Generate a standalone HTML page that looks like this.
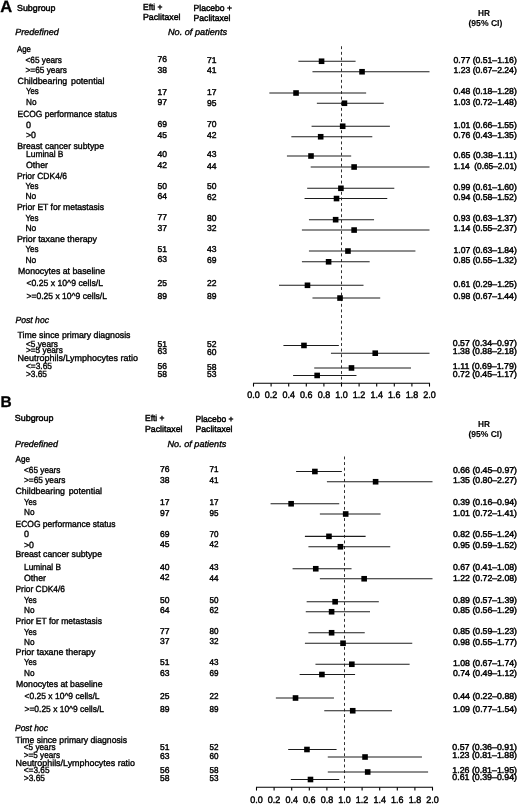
<!DOCTYPE html>
<html lang="en">
<head>
<meta charset="utf-8">
<title>Forest plot – subgroup hazard ratios</title>
<style>
html,body{margin:0;padding:0;background:#fff;}
body{width:520px;height:805px;overflow:hidden;}
svg{display:block;}
.t{white-space:pre;font-family:"Liberation Sans", sans-serif;fill:#000;stroke:#000;stroke-width:0.36px;}
.i{font-style:italic;}
.b{stroke-width:0.45px;}
.n{stroke-width:0.42px;}
.B{font-weight:bold;stroke-width:0.1px;}
.L{font-family:"Liberation Sans", sans-serif;font-weight:bold;fill:#000;stroke:#000;stroke-width:0.3px;}
</style>
</head>
<body>
<svg width="520" height="805" viewBox="0 0 520 805" text-rendering="geometricPrecision">
<rect x="0" y="0" width="520" height="805" fill="#ffffff"/>
<g>
<text class="L" x="0.2" y="12.1" font-size="16.5">A</text>
<text class="t b" x="17.00" y="10.75" font-size="8.8" textLength="38.50" lengthAdjust="spacingAndGlyphs">Subgroup</text>
<text class="t i" x="15.25" y="35.40" font-size="8.9" textLength="43.50" lengthAdjust="spacingAndGlyphs">Predefined</text>
<text class="t" x="17.00" y="51.75" font-size="8.9" textLength="14.00" lengthAdjust="spacingAndGlyphs">Age</text>
<text class="t" x="25.50" y="62.50" font-size="8.9" textLength="36.50" lengthAdjust="spacingAndGlyphs">&lt;65 years</text>
<text class="t" x="25.50" y="72.75" font-size="8.9" textLength="41.50" lengthAdjust="spacingAndGlyphs">&gt;=65 years</text>
<text class="t" x="17.50" y="83.75" font-size="8.9" textLength="87.00" lengthAdjust="spacingAndGlyphs" style="word-spacing:1.3px">Childbearing potential</text>
<text class="t" x="26.00" y="93.90" font-size="8.9" textLength="12.75" lengthAdjust="spacingAndGlyphs">Yes</text>
<text class="t" x="26.00" y="104.50" font-size="8.9" textLength="10.50" lengthAdjust="spacingAndGlyphs">No</text>
<text class="t" x="17.50" y="117.00" font-size="8.9" textLength="99.50" lengthAdjust="spacingAndGlyphs">ECOG performance status</text>
<text class="t" x="26.00" y="127.50" font-size="8.9" textLength="5.00" lengthAdjust="spacingAndGlyphs">0</text>
<text class="t" x="26.00" y="138.00" font-size="8.9" textLength="10.00" lengthAdjust="spacingAndGlyphs">&gt;0</text>
<text class="t" x="17.30" y="148.70" font-size="8.9" textLength="86.70" lengthAdjust="spacingAndGlyphs">Breast cancer subtype</text>
<text class="t" x="26.00" y="157.35" font-size="8.9" textLength="37.50" lengthAdjust="spacingAndGlyphs">Luminal B</text>
<text class="t" x="26.00" y="167.70" font-size="8.9" textLength="22.00" lengthAdjust="spacingAndGlyphs">Other</text>
<text class="t" x="16.90" y="178.80" font-size="8.9" textLength="50.10" lengthAdjust="spacingAndGlyphs">Prior CDK4/6</text>
<text class="t" x="25.40" y="189.05" font-size="8.9" textLength="13.10" lengthAdjust="spacingAndGlyphs">Yes</text>
<text class="t" x="25.40" y="199.20" font-size="8.9" textLength="10.80" lengthAdjust="spacingAndGlyphs">No</text>
<text class="t" x="16.90" y="209.90" font-size="8.9" textLength="87.10" lengthAdjust="spacingAndGlyphs">Prior ET for metastasis</text>
<text class="t" x="25.40" y="220.50" font-size="8.9" textLength="13.10" lengthAdjust="spacingAndGlyphs">Yes</text>
<text class="t" x="25.40" y="231.15" font-size="8.9" textLength="10.80" lengthAdjust="spacingAndGlyphs">No</text>
<text class="t" x="16.90" y="242.10" font-size="8.9" textLength="80.10" lengthAdjust="spacingAndGlyphs">Prior taxane therapy</text>
<text class="t" x="25.40" y="251.60" font-size="8.9" textLength="13.10" lengthAdjust="spacingAndGlyphs">Yes</text>
<text class="t" x="25.40" y="262.50" font-size="8.9" textLength="10.80" lengthAdjust="spacingAndGlyphs">No</text>
<text class="t" x="18.00" y="274.00" font-size="8.9" textLength="87.00" lengthAdjust="spacingAndGlyphs">Monocytes at baseline</text>
<text class="t" x="26.40" y="285.95" font-size="8.9" textLength="76.60" lengthAdjust="spacingAndGlyphs">&lt;0.25 x 10^9 cells/L</text>
<text class="t" x="26.40" y="298.80" font-size="8.9" textLength="80.60" lengthAdjust="spacingAndGlyphs">&gt;=0.25 x 10^9 cells/L</text>
<text class="t i" x="15.50" y="322.50" font-size="8.9" textLength="33.50" lengthAdjust="spacingAndGlyphs">Post hoc</text>
<text class="t" x="17.50" y="337.95" font-size="8.9" textLength="113.00" lengthAdjust="spacingAndGlyphs">Time since primary diagnosis</text>
<text class="t" x="25.90" y="346.50" font-size="8.9" textLength="32.10" lengthAdjust="spacingAndGlyphs">&lt;5 years</text>
<text class="t" x="25.90" y="353.30" font-size="8.9" textLength="36.90" lengthAdjust="spacingAndGlyphs">&gt;=5 years</text>
<text class="t" x="17.50" y="361.30" font-size="8.9" textLength="120.50" lengthAdjust="spacingAndGlyphs">Neutrophils/Lymphocytes ratio</text>
<text class="t" x="25.90" y="368.65" font-size="8.9" textLength="26.10" lengthAdjust="spacingAndGlyphs">&lt;=3.65</text>
<text class="t" x="25.90" y="376.80" font-size="8.9" textLength="21.10" lengthAdjust="spacingAndGlyphs">&gt;3.65</text>
<text class="t b" x="143.00" y="9.50" font-size="8.8" textLength="19.50" lengthAdjust="spacingAndGlyphs">Efti +</text>
<text class="t b" x="143.00" y="20.00" font-size="8.8" textLength="37.50" lengthAdjust="spacingAndGlyphs">Paclitaxel</text>
<text class="t b" x="193.50" y="11.00" font-size="8.8" textLength="38.50" lengthAdjust="spacingAndGlyphs">Placebo +</text>
<text class="t b" x="193.50" y="21.00" font-size="8.8" textLength="37.00" lengthAdjust="spacingAndGlyphs">Paclitaxel</text>
<text class="t i" x="168.00" y="34.60" font-size="8.9" textLength="59.00" lengthAdjust="spacingAndGlyphs">No. of patients</text>
<text class="t B" x="478.10" y="15.70" font-size="8.6" textLength="12.00" lengthAdjust="spacingAndGlyphs">HR</text>
<text class="t B" x="468.50" y="26.30" font-size="8.6" textLength="33.80" lengthAdjust="spacingAndGlyphs">(95% CI)</text>
<line x1="341.50" y1="46.25" x2="341.50" y2="383.2" stroke="#1a1a1a" stroke-width="0.9" stroke-dasharray="2.9 2.7"/>
<text class="t n" x="157.50" y="62.05" font-size="8.5" textLength="9.50" lengthAdjust="spacingAndGlyphs">76</text>
<text class="t n" x="207.00" y="62.50" font-size="8.5" textLength="9.50" lengthAdjust="spacingAndGlyphs">71</text>
<line x1="298.38" y1="61.25" x2="355.58" y2="61.25" stroke="#1c1c1c" stroke-width="1.05"/>
<rect x="318.76" y="58.45" width="5.6" height="5.6" fill="#000"/>
<text class="t b" x="453.50" y="62.60" font-size="8.5" textLength="63.30" lengthAdjust="spacingAndGlyphs">0.77 (0.51–1.16)</text>
<text class="t n" x="157.50" y="72.70" font-size="8.5" textLength="9.50" lengthAdjust="spacingAndGlyphs">38</text>
<text class="t n" x="207.00" y="73.40" font-size="8.5" textLength="9.50" lengthAdjust="spacingAndGlyphs">41</text>
<line x1="312.46" y1="71.75" x2="429.50" y2="71.75" stroke="#1c1c1c" stroke-width="1.05"/>
<rect x="359.24" y="68.95" width="5.6" height="5.6" fill="#000"/>
<text class="t b" x="453.50" y="73.10" font-size="8.5" textLength="63.30" lengthAdjust="spacingAndGlyphs">1.23 (0.67–2.24)</text>
<text class="t n" x="157.50" y="94.95" font-size="8.5" textLength="9.50" lengthAdjust="spacingAndGlyphs">17</text>
<text class="t n" x="207.00" y="95.05" font-size="8.5" textLength="9.50" lengthAdjust="spacingAndGlyphs">17</text>
<line x1="269.34" y1="93.0" x2="366.14" y2="93.0" stroke="#1c1c1c" stroke-width="1.05"/>
<rect x="293.24" y="90.20" width="5.6" height="5.6" fill="#000"/>
<text class="t b" x="453.50" y="94.30" font-size="8.5" textLength="63.30" lengthAdjust="spacingAndGlyphs">0.48 (0.18–1.28)</text>
<text class="t n" x="157.50" y="104.50" font-size="8.5" textLength="9.50" lengthAdjust="spacingAndGlyphs">97</text>
<text class="t n" x="207.00" y="105.50" font-size="8.5" textLength="9.50" lengthAdjust="spacingAndGlyphs">95</text>
<line x1="316.86" y1="103.25" x2="383.74" y2="103.25" stroke="#1c1c1c" stroke-width="1.05"/>
<rect x="341.64" y="100.45" width="5.6" height="5.6" fill="#000"/>
<text class="t b" x="453.50" y="104.80" font-size="8.5" textLength="63.30" lengthAdjust="spacingAndGlyphs">1.03 (0.72–1.48)</text>
<text class="t n" x="157.50" y="127.00" font-size="8.5" textLength="9.50" lengthAdjust="spacingAndGlyphs">69</text>
<text class="t n" x="207.00" y="127.20" font-size="8.5" textLength="9.50" lengthAdjust="spacingAndGlyphs">70</text>
<line x1="311.58" y1="126.25" x2="389.90" y2="126.25" stroke="#1c1c1c" stroke-width="1.05"/>
<rect x="339.88" y="123.45" width="5.6" height="5.6" fill="#000"/>
<text class="t b" x="453.50" y="127.60" font-size="8.5" textLength="63.30" lengthAdjust="spacingAndGlyphs">1.01 (0.66–1.55)</text>
<text class="t n" x="157.50" y="137.60" font-size="8.5" textLength="9.50" lengthAdjust="spacingAndGlyphs">45</text>
<text class="t n" x="207.00" y="138.30" font-size="8.5" textLength="9.50" lengthAdjust="spacingAndGlyphs">42</text>
<line x1="291.34" y1="136.75" x2="372.30" y2="136.75" stroke="#1c1c1c" stroke-width="1.05"/>
<rect x="317.88" y="133.95" width="5.6" height="5.6" fill="#000"/>
<text class="t b" x="453.50" y="138.40" font-size="8.5" textLength="63.30" lengthAdjust="spacingAndGlyphs">0.76 (0.43–1.35)</text>
<text class="t n" x="157.50" y="157.00" font-size="8.5" textLength="9.50" lengthAdjust="spacingAndGlyphs">40</text>
<text class="t n" x="207.00" y="157.10" font-size="8.5" textLength="9.50" lengthAdjust="spacingAndGlyphs">43</text>
<line x1="286.94" y1="156.0" x2="351.18" y2="156.0" stroke="#1c1c1c" stroke-width="1.05"/>
<rect x="308.20" y="153.20" width="5.6" height="5.6" fill="#000"/>
<text class="t b" x="453.50" y="157.60" font-size="8.5" textLength="63.30" lengthAdjust="spacingAndGlyphs">0.65 (0.38–1.11)</text>
<text class="t n" x="157.50" y="168.40" font-size="8.5" textLength="9.50" lengthAdjust="spacingAndGlyphs">42</text>
<text class="t n" x="207.00" y="168.75" font-size="8.5" textLength="9.50" lengthAdjust="spacingAndGlyphs">44</text>
<line x1="310.70" y1="167.0" x2="429.50" y2="167.0" stroke="#1c1c1c" stroke-width="1.05"/>
<rect x="351.32" y="164.20" width="5.6" height="5.6" fill="#000"/>
<text class="t b" x="453.50" y="169.40" font-size="8.5" textLength="63.30" lengthAdjust="spacingAndGlyphs">1.14  (0.65–2.01)</text>
<text class="t n" x="157.50" y="188.75" font-size="8.5" textLength="9.50" lengthAdjust="spacingAndGlyphs">50</text>
<text class="t n" x="207.00" y="189.20" font-size="8.5" textLength="9.50" lengthAdjust="spacingAndGlyphs">50</text>
<line x1="307.18" y1="188.3" x2="394.30" y2="188.3" stroke="#1c1c1c" stroke-width="1.05"/>
<rect x="338.12" y="185.50" width="5.6" height="5.6" fill="#000"/>
<text class="t b" x="453.50" y="189.70" font-size="8.5" textLength="63.30" lengthAdjust="spacingAndGlyphs">0.99 (0.61–1.60)</text>
<text class="t n" x="157.50" y="199.30" font-size="8.5" textLength="9.50" lengthAdjust="spacingAndGlyphs">64</text>
<text class="t n" x="207.00" y="200.00" font-size="8.5" textLength="9.50" lengthAdjust="spacingAndGlyphs">62</text>
<line x1="304.54" y1="198.55" x2="387.26" y2="198.55" stroke="#1c1c1c" stroke-width="1.05"/>
<rect x="333.72" y="195.75" width="5.6" height="5.6" fill="#000"/>
<text class="t b" x="453.50" y="199.90" font-size="8.5" textLength="63.30" lengthAdjust="spacingAndGlyphs">0.94 (0.58–1.52)</text>
<text class="t n" x="157.50" y="220.30" font-size="8.5" textLength="9.50" lengthAdjust="spacingAndGlyphs">77</text>
<text class="t n" x="207.00" y="220.75" font-size="8.5" textLength="9.50" lengthAdjust="spacingAndGlyphs">80</text>
<line x1="308.94" y1="219.70000000000002" x2="374.06" y2="219.70000000000002" stroke="#1c1c1c" stroke-width="1.05"/>
<rect x="332.84" y="216.90" width="5.6" height="5.6" fill="#000"/>
<text class="t b" x="453.50" y="221.00" font-size="8.5" textLength="63.30" lengthAdjust="spacingAndGlyphs">0.93 (0.63–1.37)</text>
<text class="t n" x="157.50" y="230.75" font-size="8.5" textLength="9.50" lengthAdjust="spacingAndGlyphs">37</text>
<text class="t n" x="207.00" y="231.10" font-size="8.5" textLength="9.50" lengthAdjust="spacingAndGlyphs">32</text>
<line x1="301.90" y1="230.05" x2="429.50" y2="230.05" stroke="#1c1c1c" stroke-width="1.05"/>
<rect x="351.32" y="227.25" width="5.6" height="5.6" fill="#000"/>
<text class="t b" x="453.50" y="231.40" font-size="8.5" textLength="63.30" lengthAdjust="spacingAndGlyphs">1.14 (0.55–2.37)</text>
<text class="t n" x="157.50" y="251.70" font-size="8.5" textLength="9.50" lengthAdjust="spacingAndGlyphs">51</text>
<text class="t n" x="207.00" y="252.20" font-size="8.5" textLength="9.50" lengthAdjust="spacingAndGlyphs">43</text>
<line x1="308.94" y1="251.05" x2="415.42" y2="251.05" stroke="#1c1c1c" stroke-width="1.05"/>
<rect x="345.16" y="248.25" width="5.6" height="5.6" fill="#000"/>
<text class="t b" x="453.50" y="252.70" font-size="8.5" textLength="63.30" lengthAdjust="spacingAndGlyphs">1.07 (0.63–1.84)</text>
<text class="t n" x="157.50" y="261.90" font-size="8.5" textLength="9.50" lengthAdjust="spacingAndGlyphs">63</text>
<text class="t n" x="207.00" y="263.25" font-size="8.5" textLength="9.50" lengthAdjust="spacingAndGlyphs">69</text>
<line x1="301.90" y1="261.8" x2="369.66" y2="261.8" stroke="#1c1c1c" stroke-width="1.05"/>
<rect x="325.80" y="259.00" width="5.6" height="5.6" fill="#000"/>
<text class="t b" x="453.50" y="263.00" font-size="8.5" textLength="63.30" lengthAdjust="spacingAndGlyphs">0.85 (0.55–1.32)</text>
<text class="t n" x="157.50" y="286.00" font-size="8.5" textLength="9.50" lengthAdjust="spacingAndGlyphs">25</text>
<text class="t n" x="207.00" y="286.20" font-size="8.5" textLength="9.50" lengthAdjust="spacingAndGlyphs">22</text>
<line x1="279.02" y1="285.3" x2="363.50" y2="285.3" stroke="#1c1c1c" stroke-width="1.05"/>
<rect x="304.68" y="282.50" width="5.6" height="5.6" fill="#000"/>
<text class="t b" x="453.50" y="286.50" font-size="8.5" textLength="63.30" lengthAdjust="spacingAndGlyphs">0.61 (0.29–1.25)</text>
<text class="t n" x="157.50" y="298.70" font-size="8.5" textLength="9.50" lengthAdjust="spacingAndGlyphs">89</text>
<text class="t n" x="207.00" y="299.10" font-size="8.5" textLength="9.50" lengthAdjust="spacingAndGlyphs">89</text>
<line x1="312.46" y1="298.05" x2="380.22" y2="298.05" stroke="#1c1c1c" stroke-width="1.05"/>
<rect x="337.24" y="295.25" width="5.6" height="5.6" fill="#000"/>
<text class="t b" x="453.50" y="299.00" font-size="8.5" textLength="63.30" lengthAdjust="spacingAndGlyphs">0.98 (0.67–1.44)</text>
<text class="t n" x="157.50" y="346.95" font-size="8.5" textLength="9.50" lengthAdjust="spacingAndGlyphs">51</text>
<text class="t n" x="207.00" y="346.50" font-size="8.5" textLength="9.50" lengthAdjust="spacingAndGlyphs">52</text>
<line x1="283.42" y1="345.45" x2="338.86" y2="345.45" stroke="#1c1c1c" stroke-width="1.05"/>
<rect x="301.16" y="342.65" width="5.6" height="5.6" fill="#000"/>
<text class="t b" x="452.80" y="346.40" font-size="8.5" textLength="64.00" lengthAdjust="spacingAndGlyphs">0.57 (0.34–0.97)</text>
<text class="t n" x="157.50" y="353.60" font-size="8.5" textLength="9.50" lengthAdjust="spacingAndGlyphs">63</text>
<text class="t n" x="207.00" y="354.60" font-size="8.5" textLength="9.50" lengthAdjust="spacingAndGlyphs">60</text>
<line x1="330.94" y1="353.2" x2="429.50" y2="353.2" stroke="#1c1c1c" stroke-width="1.05"/>
<rect x="372.44" y="350.40" width="5.6" height="5.6" fill="#000"/>
<text class="t b" x="452.80" y="354.00" font-size="8.5" textLength="64.00" lengthAdjust="spacingAndGlyphs">1.38 (0.88–2.18)</text>
<text class="t n" x="157.50" y="369.10" font-size="8.5" textLength="9.50" lengthAdjust="spacingAndGlyphs">56</text>
<text class="t n" x="207.00" y="369.50" font-size="8.5" textLength="9.50" lengthAdjust="spacingAndGlyphs">58</text>
<line x1="314.22" y1="367.95" x2="411.02" y2="367.95" stroke="#1c1c1c" stroke-width="1.05"/>
<rect x="348.68" y="365.15" width="5.6" height="5.6" fill="#000"/>
<text class="t b" x="452.80" y="369.10" font-size="8.5" textLength="64.00" lengthAdjust="spacingAndGlyphs">1.11 (0.69–1.79)</text>
<text class="t n" x="157.50" y="377.00" font-size="8.5" textLength="9.50" lengthAdjust="spacingAndGlyphs">58</text>
<text class="t n" x="207.00" y="377.40" font-size="8.5" textLength="9.50" lengthAdjust="spacingAndGlyphs">53</text>
<line x1="293.10" y1="375.45" x2="356.46" y2="375.45" stroke="#1c1c1c" stroke-width="1.05"/>
<rect x="314.36" y="372.65" width="5.6" height="5.6" fill="#000"/>
<text class="t b" x="452.80" y="376.70" font-size="8.5" textLength="64.00" lengthAdjust="spacingAndGlyphs">0.72 (0.45–1.17)</text>
<line x1="253.00" y1="383.25" x2="430.00" y2="383.25" stroke="#000" stroke-width="1.1"/>
<line x1="253.50" y1="383.25" x2="253.50" y2="386.6" stroke="#000" stroke-width="1.1"/>
<text class="t b" x="247.25" y="398.40" font-size="9.5" textLength="12.50" lengthAdjust="spacingAndGlyphs">0.0</text>
<line x1="271.10" y1="383.25" x2="271.10" y2="386.6" stroke="#000" stroke-width="1.1"/>
<text class="t b" x="264.85" y="398.40" font-size="9.5" textLength="12.50" lengthAdjust="spacingAndGlyphs">0.2</text>
<line x1="288.70" y1="383.25" x2="288.70" y2="386.6" stroke="#000" stroke-width="1.1"/>
<text class="t b" x="282.45" y="398.40" font-size="9.5" textLength="12.50" lengthAdjust="spacingAndGlyphs">0.4</text>
<line x1="306.30" y1="383.25" x2="306.30" y2="386.6" stroke="#000" stroke-width="1.1"/>
<text class="t b" x="300.05" y="398.40" font-size="9.5" textLength="12.50" lengthAdjust="spacingAndGlyphs">0.6</text>
<line x1="323.90" y1="383.25" x2="323.90" y2="386.6" stroke="#000" stroke-width="1.1"/>
<text class="t b" x="317.65" y="398.40" font-size="9.5" textLength="12.50" lengthAdjust="spacingAndGlyphs">0.8</text>
<line x1="341.50" y1="383.25" x2="341.50" y2="386.6" stroke="#000" stroke-width="1.1"/>
<text class="t b" x="335.25" y="398.40" font-size="9.5" textLength="12.50" lengthAdjust="spacingAndGlyphs">1.0</text>
<line x1="359.10" y1="383.25" x2="359.10" y2="386.6" stroke="#000" stroke-width="1.1"/>
<text class="t b" x="352.85" y="398.40" font-size="9.5" textLength="12.50" lengthAdjust="spacingAndGlyphs">1.2</text>
<line x1="376.70" y1="383.25" x2="376.70" y2="386.6" stroke="#000" stroke-width="1.1"/>
<text class="t b" x="370.45" y="398.40" font-size="9.5" textLength="12.50" lengthAdjust="spacingAndGlyphs">1.4</text>
<line x1="394.30" y1="383.25" x2="394.30" y2="386.6" stroke="#000" stroke-width="1.1"/>
<text class="t b" x="388.05" y="398.40" font-size="9.5" textLength="12.50" lengthAdjust="spacingAndGlyphs">1.6</text>
<line x1="411.90" y1="383.25" x2="411.90" y2="386.6" stroke="#000" stroke-width="1.1"/>
<text class="t b" x="405.65" y="398.40" font-size="9.5" textLength="12.50" lengthAdjust="spacingAndGlyphs">1.8</text>
<line x1="429.50" y1="383.25" x2="429.50" y2="386.6" stroke="#000" stroke-width="1.1"/>
<text class="t b" x="423.25" y="398.40" font-size="9.5" textLength="12.50" lengthAdjust="spacingAndGlyphs">2.0</text>
</g>
<g>
<text class="L" x="0.6" y="406.9" font-size="15.5">B</text>
<text class="t b" x="14.75" y="421.30" font-size="8.8" textLength="38.75" lengthAdjust="spacingAndGlyphs">Subgroup</text>
<text class="t i" x="15.00" y="446.55" font-size="8.9" textLength="43.00" lengthAdjust="spacingAndGlyphs">Predefined</text>
<text class="t" x="15.50" y="462.05" font-size="8.9" textLength="14.50" lengthAdjust="spacingAndGlyphs">Age</text>
<text class="t" x="24.00" y="472.80" font-size="8.9" textLength="36.50" lengthAdjust="spacingAndGlyphs">&lt;65 years</text>
<text class="t" x="24.00" y="482.80" font-size="8.9" textLength="41.50" lengthAdjust="spacingAndGlyphs">&gt;=65 years</text>
<text class="t" x="15.50" y="494.30" font-size="8.9" textLength="86.50" lengthAdjust="spacingAndGlyphs" style="word-spacing:1.3px">Childbearing potential</text>
<text class="t" x="24.00" y="504.80" font-size="8.9" textLength="12.75" lengthAdjust="spacingAndGlyphs">Yes</text>
<text class="t" x="24.00" y="515.30" font-size="8.9" textLength="10.50" lengthAdjust="spacingAndGlyphs">No</text>
<text class="t" x="15.50" y="526.80" font-size="8.9" textLength="100.00" lengthAdjust="spacingAndGlyphs">ECOG performance status</text>
<text class="t" x="24.00" y="537.30" font-size="8.9" textLength="5.00" lengthAdjust="spacingAndGlyphs">0</text>
<text class="t" x="24.00" y="547.80" font-size="8.9" textLength="10.00" lengthAdjust="spacingAndGlyphs">&gt;0</text>
<text class="t" x="15.50" y="557.25" font-size="8.9" textLength="86.50" lengthAdjust="spacingAndGlyphs">Breast cancer subtype</text>
<text class="t" x="24.00" y="569.55" font-size="8.9" textLength="37.00" lengthAdjust="spacingAndGlyphs">Luminal B</text>
<text class="t" x="24.00" y="581.05" font-size="8.9" textLength="22.00" lengthAdjust="spacingAndGlyphs">Other</text>
<text class="t" x="15.50" y="591.85" font-size="8.9" textLength="49.50" lengthAdjust="spacingAndGlyphs">Prior CDK4/6</text>
<text class="t" x="24.00" y="602.60" font-size="8.9" textLength="12.75" lengthAdjust="spacingAndGlyphs">Yes</text>
<text class="t" x="24.00" y="612.80" font-size="8.9" textLength="10.50" lengthAdjust="spacingAndGlyphs">No</text>
<text class="t" x="15.50" y="623.55" font-size="8.9" textLength="86.50" lengthAdjust="spacingAndGlyphs">Prior ET for metastasis</text>
<text class="t" x="24.00" y="634.50" font-size="8.9" textLength="12.75" lengthAdjust="spacingAndGlyphs">Yes</text>
<text class="t" x="24.00" y="644.50" font-size="8.9" textLength="10.50" lengthAdjust="spacingAndGlyphs">No</text>
<text class="t" x="15.50" y="655.25" font-size="8.9" textLength="80.00" lengthAdjust="spacingAndGlyphs">Prior taxane therapy</text>
<text class="t" x="24.00" y="665.25" font-size="8.9" textLength="12.75" lengthAdjust="spacingAndGlyphs">Yes</text>
<text class="t" x="24.00" y="676.05" font-size="8.9" textLength="10.50" lengthAdjust="spacingAndGlyphs">No</text>
<text class="t" x="16.00" y="686.55" font-size="8.9" textLength="86.50" lengthAdjust="spacingAndGlyphs">Monocytes at baseline</text>
<text class="t" x="24.50" y="699.10" font-size="8.9" textLength="75.00" lengthAdjust="spacingAndGlyphs">&lt;0.25 x 10^9 cells/L</text>
<text class="t" x="24.50" y="712.00" font-size="8.9" textLength="79.50" lengthAdjust="spacingAndGlyphs">&gt;=0.25 x 10^9 cells/L</text>
<text class="t i" x="15.00" y="731.05" font-size="8.9" textLength="33.00" lengthAdjust="spacingAndGlyphs">Post hoc</text>
<text class="t" x="15.50" y="742.50" font-size="8.9" textLength="111.50" lengthAdjust="spacingAndGlyphs">Time since primary diagnosis</text>
<text class="t" x="23.80" y="750.10" font-size="8.9" textLength="31.70" lengthAdjust="spacingAndGlyphs">&lt;5 years</text>
<text class="t" x="23.80" y="758.05" font-size="8.9" textLength="36.20" lengthAdjust="spacingAndGlyphs">&gt;=5 years</text>
<text class="t" x="15.50" y="765.90" font-size="8.9" textLength="119.50" lengthAdjust="spacingAndGlyphs">Neutrophils/Lymphocytes ratio</text>
<text class="t" x="23.80" y="773.10" font-size="8.9" textLength="25.70" lengthAdjust="spacingAndGlyphs">&lt;=3.65</text>
<text class="t" x="23.80" y="781.05" font-size="8.9" textLength="21.20" lengthAdjust="spacingAndGlyphs">&gt;3.65</text>
<text class="t b" x="145.00" y="421.00" font-size="8.8" textLength="19.50" lengthAdjust="spacingAndGlyphs">Efti +</text>
<text class="t b" x="145.00" y="431.50" font-size="8.8" textLength="37.50" lengthAdjust="spacingAndGlyphs">Paclitaxel</text>
<text class="t b" x="195.50" y="421.50" font-size="8.8" textLength="38.00" lengthAdjust="spacingAndGlyphs">Placebo +</text>
<text class="t b" x="195.50" y="432.00" font-size="8.8" textLength="37.00" lengthAdjust="spacingAndGlyphs">Paclitaxel</text>
<text class="t i" x="167.50" y="447.30" font-size="8.9" textLength="58.75" lengthAdjust="spacingAndGlyphs">No. of patients</text>
<text class="t B" x="478.10" y="426.80" font-size="8.6" textLength="12.00" lengthAdjust="spacingAndGlyphs">HR</text>
<text class="t B" x="468.50" y="437.40" font-size="8.6" textLength="33.50" lengthAdjust="spacingAndGlyphs">(95% CI)</text>
<line x1="344.50" y1="456.5" x2="344.50" y2="783.0" stroke="#1a1a1a" stroke-width="0.9" stroke-dasharray="2.9 2.7"/>
<text class="t n" x="160.00" y="472.20" font-size="8.5" textLength="9.50" lengthAdjust="spacingAndGlyphs">76</text>
<text class="t n" x="209.50" y="472.20" font-size="8.5" textLength="9.00" lengthAdjust="spacingAndGlyphs">71</text>
<line x1="296.10" y1="471.5" x2="341.86" y2="471.5" stroke="#1c1c1c" stroke-width="1.05"/>
<rect x="312.08" y="468.70" width="5.6" height="5.6" fill="#000"/>
<text class="t b" x="453.00" y="472.80" font-size="8.5" textLength="64.00" lengthAdjust="spacingAndGlyphs">0.66 (0.45–0.97)</text>
<text class="t n" x="160.00" y="483.30" font-size="8.5" textLength="9.50" lengthAdjust="spacingAndGlyphs">38</text>
<text class="t n" x="209.50" y="483.30" font-size="8.5" textLength="9.00" lengthAdjust="spacingAndGlyphs">41</text>
<line x1="326.90" y1="481.75" x2="432.50" y2="481.75" stroke="#1c1c1c" stroke-width="1.05"/>
<rect x="372.80" y="478.95" width="5.6" height="5.6" fill="#000"/>
<text class="t b" x="453.00" y="483.20" font-size="8.5" textLength="64.00" lengthAdjust="spacingAndGlyphs">1.35 (0.80–2.27)</text>
<text class="t n" x="160.00" y="505.00" font-size="8.5" textLength="9.50" lengthAdjust="spacingAndGlyphs">17</text>
<text class="t n" x="209.50" y="505.00" font-size="8.5" textLength="9.00" lengthAdjust="spacingAndGlyphs">17</text>
<line x1="270.58" y1="503.75" x2="339.22" y2="503.75" stroke="#1c1c1c" stroke-width="1.05"/>
<rect x="288.32" y="500.95" width="5.6" height="5.6" fill="#000"/>
<text class="t b" x="453.00" y="505.10" font-size="8.5" textLength="64.00" lengthAdjust="spacingAndGlyphs">0.39 (0.16–0.94)</text>
<text class="t n" x="160.00" y="516.00" font-size="8.5" textLength="9.50" lengthAdjust="spacingAndGlyphs">97</text>
<text class="t n" x="209.50" y="516.00" font-size="8.5" textLength="9.00" lengthAdjust="spacingAndGlyphs">95</text>
<line x1="319.86" y1="514.0" x2="380.58" y2="514.0" stroke="#1c1c1c" stroke-width="1.05"/>
<rect x="342.88" y="511.20" width="5.6" height="5.6" fill="#000"/>
<text class="t b" x="453.00" y="515.60" font-size="8.5" textLength="64.00" lengthAdjust="spacingAndGlyphs">1.01 (0.72–1.41)</text>
<text class="t n" x="160.00" y="537.00" font-size="8.5" textLength="9.50" lengthAdjust="spacingAndGlyphs">69</text>
<text class="t n" x="209.50" y="537.00" font-size="8.5" textLength="9.00" lengthAdjust="spacingAndGlyphs">70</text>
<line x1="304.90" y1="536.35" x2="365.62" y2="536.35" stroke="#1c1c1c" stroke-width="1.05"/>
<rect x="326.16" y="533.55" width="5.6" height="5.6" fill="#000"/>
<text class="t b" x="453.00" y="537.10" font-size="8.5" textLength="64.00" lengthAdjust="spacingAndGlyphs">0.82 (0.55–1.24)</text>
<text class="t n" x="160.00" y="547.10" font-size="8.5" textLength="9.50" lengthAdjust="spacingAndGlyphs">45</text>
<text class="t n" x="209.50" y="547.10" font-size="8.5" textLength="9.00" lengthAdjust="spacingAndGlyphs">42</text>
<line x1="308.42" y1="546.75" x2="390.26" y2="546.75" stroke="#1c1c1c" stroke-width="1.05"/>
<rect x="337.60" y="543.95" width="5.6" height="5.6" fill="#000"/>
<text class="t b" x="453.00" y="547.90" font-size="8.5" textLength="64.00" lengthAdjust="spacingAndGlyphs">0.95 (0.59–1.52)</text>
<text class="t n" x="160.00" y="570.00" font-size="8.5" textLength="9.50" lengthAdjust="spacingAndGlyphs">40</text>
<text class="t n" x="209.50" y="570.00" font-size="8.5" textLength="9.00" lengthAdjust="spacingAndGlyphs">43</text>
<line x1="292.58" y1="568.75" x2="351.54" y2="568.75" stroke="#1c1c1c" stroke-width="1.05"/>
<rect x="312.96" y="565.95" width="5.6" height="5.6" fill="#000"/>
<text class="t b" x="453.00" y="569.90" font-size="8.5" textLength="64.00" lengthAdjust="spacingAndGlyphs">0.67 (0.41–1.08)</text>
<text class="t n" x="160.00" y="579.80" font-size="8.5" textLength="9.50" lengthAdjust="spacingAndGlyphs">42</text>
<text class="t n" x="209.50" y="580.70" font-size="8.5" textLength="9.00" lengthAdjust="spacingAndGlyphs">44</text>
<line x1="319.86" y1="578.75" x2="432.50" y2="578.75" stroke="#1c1c1c" stroke-width="1.05"/>
<rect x="361.36" y="575.95" width="5.6" height="5.6" fill="#000"/>
<text class="t b" x="453.00" y="580.50" font-size="8.5" textLength="64.00" lengthAdjust="spacingAndGlyphs">1.22 (0.72–2.08)</text>
<text class="t n" x="160.00" y="602.50" font-size="8.5" textLength="9.50" lengthAdjust="spacingAndGlyphs">50</text>
<text class="t n" x="209.50" y="602.50" font-size="8.5" textLength="9.00" lengthAdjust="spacingAndGlyphs">50</text>
<line x1="306.66" y1="601.75" x2="378.82" y2="601.75" stroke="#1c1c1c" stroke-width="1.05"/>
<rect x="332.32" y="598.95" width="5.6" height="5.6" fill="#000"/>
<text class="t b" x="453.00" y="602.80" font-size="8.5" textLength="64.00" lengthAdjust="spacingAndGlyphs">0.89 (0.57–1.39)</text>
<text class="t n" x="160.00" y="613.25" font-size="8.5" textLength="9.50" lengthAdjust="spacingAndGlyphs">64</text>
<text class="t n" x="209.50" y="613.25" font-size="8.5" textLength="9.00" lengthAdjust="spacingAndGlyphs">62</text>
<line x1="305.78" y1="611.75" x2="370.02" y2="611.75" stroke="#1c1c1c" stroke-width="1.05"/>
<rect x="328.80" y="608.95" width="5.6" height="5.6" fill="#000"/>
<text class="t b" x="453.00" y="613.30" font-size="8.5" textLength="64.00" lengthAdjust="spacingAndGlyphs">0.85 (0.56–1.29)</text>
<text class="t n" x="160.00" y="634.00" font-size="8.5" textLength="9.50" lengthAdjust="spacingAndGlyphs">77</text>
<text class="t n" x="209.50" y="634.00" font-size="8.5" textLength="9.00" lengthAdjust="spacingAndGlyphs">80</text>
<line x1="308.42" y1="632.75" x2="364.74" y2="632.75" stroke="#1c1c1c" stroke-width="1.05"/>
<rect x="328.80" y="629.95" width="5.6" height="5.6" fill="#000"/>
<text class="t b" x="453.00" y="634.00" font-size="8.5" textLength="64.00" lengthAdjust="spacingAndGlyphs">0.85 (0.59–1.23)</text>
<text class="t n" x="160.00" y="644.15" font-size="8.5" textLength="9.50" lengthAdjust="spacingAndGlyphs">37</text>
<text class="t n" x="209.50" y="644.15" font-size="8.5" textLength="9.00" lengthAdjust="spacingAndGlyphs">32</text>
<line x1="304.90" y1="643.25" x2="412.26" y2="643.25" stroke="#1c1c1c" stroke-width="1.05"/>
<rect x="340.24" y="640.45" width="5.6" height="5.6" fill="#000"/>
<text class="t b" x="453.00" y="644.50" font-size="8.5" textLength="64.00" lengthAdjust="spacingAndGlyphs">0.98 (0.55–1.77)</text>
<text class="t n" x="160.00" y="665.10" font-size="8.5" textLength="9.50" lengthAdjust="spacingAndGlyphs">51</text>
<text class="t n" x="209.50" y="665.10" font-size="8.5" textLength="9.00" lengthAdjust="spacingAndGlyphs">43</text>
<line x1="315.46" y1="664.25" x2="409.62" y2="664.25" stroke="#1c1c1c" stroke-width="1.05"/>
<rect x="349.04" y="661.45" width="5.6" height="5.6" fill="#000"/>
<text class="t b" x="453.00" y="665.60" font-size="8.5" textLength="64.00" lengthAdjust="spacingAndGlyphs">1.08 (0.67–1.74)</text>
<text class="t n" x="160.00" y="676.25" font-size="8.5" textLength="9.50" lengthAdjust="spacingAndGlyphs">63</text>
<text class="t n" x="209.50" y="676.25" font-size="8.5" textLength="9.00" lengthAdjust="spacingAndGlyphs">69</text>
<line x1="299.62" y1="674.5" x2="355.06" y2="674.5" stroke="#1c1c1c" stroke-width="1.05"/>
<rect x="319.12" y="671.70" width="5.6" height="5.6" fill="#000"/>
<text class="t b" x="453.00" y="675.90" font-size="8.5" textLength="64.00" lengthAdjust="spacingAndGlyphs">0.74 (0.49–1.12)</text>
<text class="t n" x="160.00" y="699.10" font-size="8.5" textLength="9.50" lengthAdjust="spacingAndGlyphs">25</text>
<text class="t n" x="209.50" y="699.10" font-size="8.5" textLength="9.00" lengthAdjust="spacingAndGlyphs">22</text>
<line x1="275.86" y1="698.0" x2="333.94" y2="698.0" stroke="#1c1c1c" stroke-width="1.05"/>
<rect x="292.72" y="695.20" width="5.6" height="5.6" fill="#000"/>
<text class="t b" x="453.00" y="699.40" font-size="8.5" textLength="64.00" lengthAdjust="spacingAndGlyphs">0.44 (0.22–0.88)</text>
<text class="t n" x="160.00" y="711.80" font-size="8.5" textLength="9.50" lengthAdjust="spacingAndGlyphs">89</text>
<text class="t n" x="209.50" y="711.80" font-size="8.5" textLength="9.00" lengthAdjust="spacingAndGlyphs">89</text>
<line x1="324.26" y1="710.75" x2="392.02" y2="710.75" stroke="#1c1c1c" stroke-width="1.05"/>
<rect x="349.92" y="707.95" width="5.6" height="5.6" fill="#000"/>
<text class="t b" x="453.00" y="712.00" font-size="8.5" textLength="64.00" lengthAdjust="spacingAndGlyphs">1.09 (0.77–1.54)</text>
<text class="t n" x="160.00" y="750.15" font-size="8.5" textLength="9.50" lengthAdjust="spacingAndGlyphs">51</text>
<text class="t n" x="209.50" y="750.15" font-size="8.5" textLength="9.00" lengthAdjust="spacingAndGlyphs">52</text>
<line x1="288.18" y1="749.5" x2="336.58" y2="749.5" stroke="#1c1c1c" stroke-width="1.05"/>
<rect x="304.16" y="746.70" width="5.6" height="5.6" fill="#000"/>
<text class="t b" x="452.30" y="749.90" font-size="8.5" textLength="64.70" lengthAdjust="spacingAndGlyphs">0.57 (0.36–0.91)</text>
<text class="t n" x="160.00" y="758.65" font-size="8.5" textLength="9.50" lengthAdjust="spacingAndGlyphs">63</text>
<text class="t n" x="209.50" y="758.65" font-size="8.5" textLength="9.00" lengthAdjust="spacingAndGlyphs">60</text>
<line x1="327.78" y1="757.0" x2="421.94" y2="757.0" stroke="#1c1c1c" stroke-width="1.05"/>
<rect x="362.24" y="754.20" width="5.6" height="5.6" fill="#000"/>
<text class="t b" x="452.30" y="757.60" font-size="8.5" textLength="64.70" lengthAdjust="spacingAndGlyphs">1.23 (0.81–1.88)</text>
<text class="t n" x="160.00" y="773.40" font-size="8.5" textLength="9.50" lengthAdjust="spacingAndGlyphs">56</text>
<text class="t n" x="209.50" y="773.40" font-size="8.5" textLength="9.00" lengthAdjust="spacingAndGlyphs">58</text>
<line x1="327.78" y1="772.0" x2="428.10" y2="772.0" stroke="#1c1c1c" stroke-width="1.05"/>
<rect x="364.88" y="769.20" width="5.6" height="5.6" fill="#000"/>
<text class="t b" x="452.30" y="772.70" font-size="8.5" textLength="64.70" lengthAdjust="spacingAndGlyphs">1.26 (0.81–1.95)</text>
<text class="t n" x="160.00" y="780.80" font-size="8.5" textLength="9.50" lengthAdjust="spacingAndGlyphs">58</text>
<text class="t n" x="209.50" y="780.80" font-size="8.5" textLength="9.00" lengthAdjust="spacingAndGlyphs">53</text>
<line x1="290.82" y1="779.5" x2="339.22" y2="779.5" stroke="#1c1c1c" stroke-width="1.05"/>
<rect x="307.68" y="776.70" width="5.6" height="5.6" fill="#000"/>
<text class="t b" x="452.30" y="780.20" font-size="8.5" textLength="64.70" lengthAdjust="spacingAndGlyphs">0.61 (0.39–0.94)</text>
<line x1="256.00" y1="787.25" x2="433.00" y2="787.25" stroke="#000" stroke-width="1.1"/>
<line x1="256.50" y1="787.25" x2="256.50" y2="790.6" stroke="#000" stroke-width="1.1"/>
<text class="t b" x="250.25" y="802.60" font-size="9.5" textLength="12.50" lengthAdjust="spacingAndGlyphs">0.0</text>
<line x1="274.10" y1="787.25" x2="274.10" y2="790.6" stroke="#000" stroke-width="1.1"/>
<text class="t b" x="267.85" y="802.60" font-size="9.5" textLength="12.50" lengthAdjust="spacingAndGlyphs">0.2</text>
<line x1="291.70" y1="787.25" x2="291.70" y2="790.6" stroke="#000" stroke-width="1.1"/>
<text class="t b" x="285.45" y="802.60" font-size="9.5" textLength="12.50" lengthAdjust="spacingAndGlyphs">0.4</text>
<line x1="309.30" y1="787.25" x2="309.30" y2="790.6" stroke="#000" stroke-width="1.1"/>
<text class="t b" x="303.05" y="802.60" font-size="9.5" textLength="12.50" lengthAdjust="spacingAndGlyphs">0.6</text>
<line x1="326.90" y1="787.25" x2="326.90" y2="790.6" stroke="#000" stroke-width="1.1"/>
<text class="t b" x="320.65" y="802.60" font-size="9.5" textLength="12.50" lengthAdjust="spacingAndGlyphs">0.8</text>
<line x1="344.50" y1="787.25" x2="344.50" y2="790.6" stroke="#000" stroke-width="1.1"/>
<text class="t b" x="338.25" y="802.60" font-size="9.5" textLength="12.50" lengthAdjust="spacingAndGlyphs">1.0</text>
<line x1="362.10" y1="787.25" x2="362.10" y2="790.6" stroke="#000" stroke-width="1.1"/>
<text class="t b" x="355.85" y="802.60" font-size="9.5" textLength="12.50" lengthAdjust="spacingAndGlyphs">1.2</text>
<line x1="379.70" y1="787.25" x2="379.70" y2="790.6" stroke="#000" stroke-width="1.1"/>
<text class="t b" x="373.45" y="802.60" font-size="9.5" textLength="12.50" lengthAdjust="spacingAndGlyphs">1.4</text>
<line x1="397.30" y1="787.25" x2="397.30" y2="790.6" stroke="#000" stroke-width="1.1"/>
<text class="t b" x="391.05" y="802.60" font-size="9.5" textLength="12.50" lengthAdjust="spacingAndGlyphs">1.6</text>
<line x1="414.90" y1="787.25" x2="414.90" y2="790.6" stroke="#000" stroke-width="1.1"/>
<text class="t b" x="408.65" y="802.60" font-size="9.5" textLength="12.50" lengthAdjust="spacingAndGlyphs">1.8</text>
<line x1="432.50" y1="787.25" x2="432.50" y2="790.6" stroke="#000" stroke-width="1.1"/>
<text class="t b" x="426.25" y="802.60" font-size="9.5" textLength="12.50" lengthAdjust="spacingAndGlyphs">2.0</text>
</g>
</svg>
</body>
</html>
